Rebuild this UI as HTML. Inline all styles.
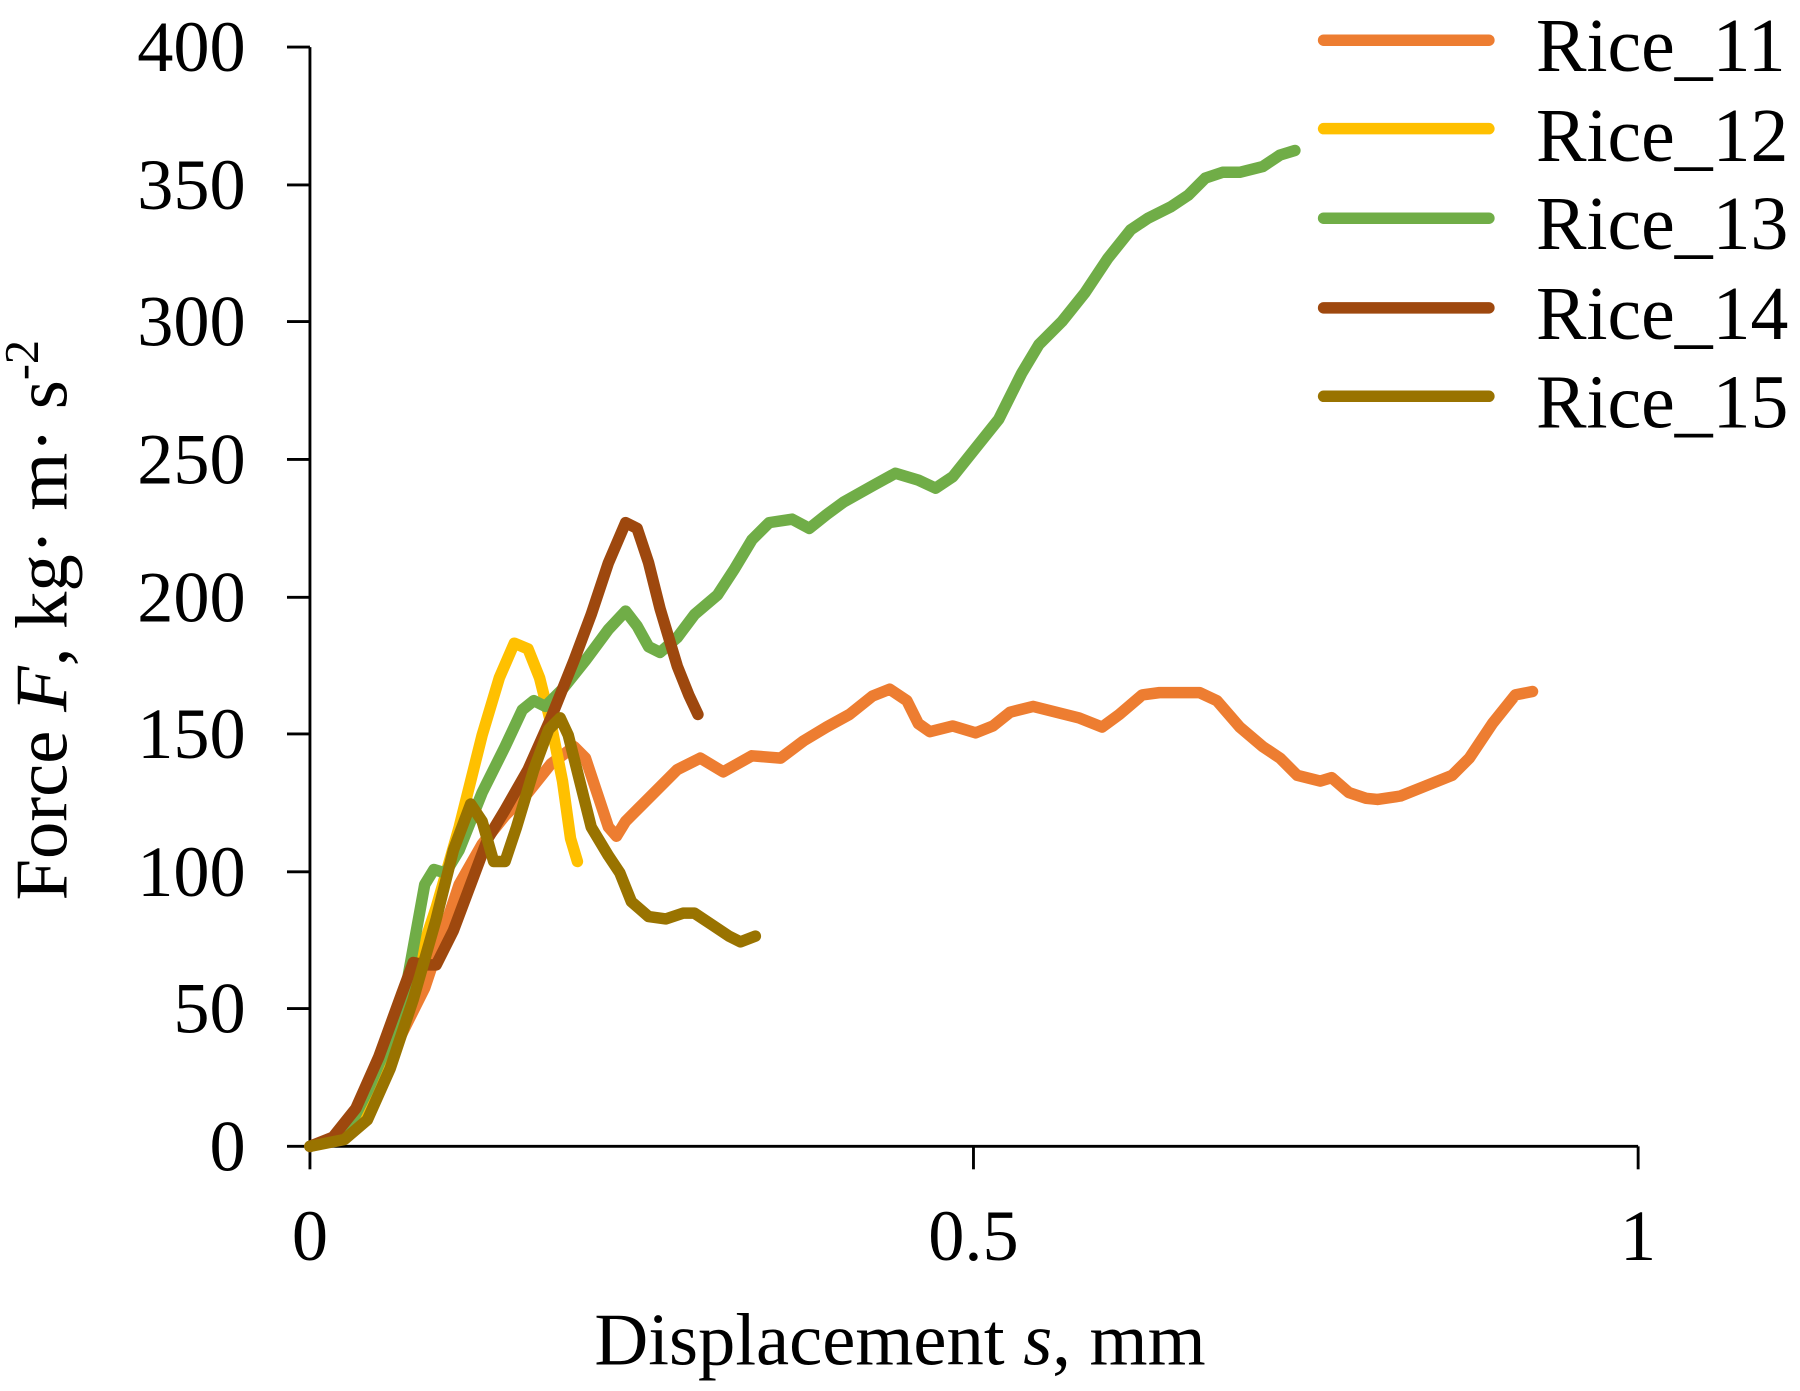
<!DOCTYPE html>
<html><head><style>html,body{margin:0;padding:0;background:#fff}svg{display:block}</style></head>
<body>
<svg width="1800" height="1391" viewBox="0 0 1568 1211" preserveAspectRatio="none" xmlns="http://www.w3.org/2000/svg" font-family="Liberation Serif, serif">
<g stroke="#000" stroke-width="2.5" fill="none">
<line x1="270" y1="41" x2="270" y2="998"/>
<line x1="270" y1="998" x2="1427" y2="998"/>
<line x1="250" y1="41" x2="270" y2="41"/><line x1="250" y1="161" x2="270" y2="161"/>
<line x1="250" y1="280" x2="270" y2="280"/><line x1="250" y1="400" x2="270" y2="400"/>
<line x1="250" y1="520" x2="270" y2="520"/><line x1="250" y1="639" x2="270" y2="639"/>
<line x1="250" y1="759" x2="270" y2="759"/><line x1="250" y1="878" x2="270" y2="878"/>
<line x1="250" y1="998" x2="270" y2="998"/>
<line x1="270" y1="998" x2="270" y2="1018"/><line x1="848" y1="998" x2="848" y2="1018"/><line x1="1427" y1="998" x2="1427" y2="1018"/>
</g>
<g font-size="63" text-anchor="end">
<text x="214" y="62">400</text><text x="214" y="182">350</text><text x="214" y="301">300</text>
<text x="214" y="421">250</text><text x="214" y="541">200</text><text x="214" y="660">150</text>
<text x="214" y="780">100</text><text x="214" y="899">50</text><text x="214" y="1019">0</text>
</g>
<g font-size="63" text-anchor="middle">
<text x="270" y="1097">0</text><text x="848" y="1097">0.5</text><text x="1427" y="1097">1</text>
</g>
<text x="784" y="1188" font-size="65" text-anchor="middle">Displacement <tspan font-style="italic">s</tspan>, mm</text>
<text transform="translate(58,540) rotate(-90)" font-size="65" text-anchor="middle">Force <tspan font-style="italic">F</tspan>, kg· m· s<tspan font-size="42" dy="-25">-2</tspan></text>
<g fill="none" stroke-width="10" stroke-linecap="round" stroke-linejoin="round">
<polyline stroke="#ED7D31" points="270,998 290,992 310,975 340,920 370,860 400,770 420,735 440,710 460,690 480,665 500,650 510,660 520,690 530,720 537,728 545,715 560,700 575,685 590,670 610,660 630,672 655,658 680,660 700,645 720,633 740,622 760,606 775,600 790,610 800,630 810,637 830,632 850,638 865,632 880,620 900,615 920,620 940,625 960,633 975,622 995,605 1010,603 1045,603 1060,610 1080,633 1100,650 1115,660 1130,675 1150,680 1160,677 1175,690 1190,695 1200,696 1220,693 1240,685 1265,675 1280,660 1300,630 1320,605 1335,602"/>
<polyline stroke="#FFC000" points="270,998 300,990 320,960 350,880 380,790 400,720 420,640 435,590 448,560 460,565 470,590 480,630 490,680 497,730 503,750"/>
<polyline stroke="#70AD47" points="270,998 300,990 320,950 350,880 370,770 378,757 388,760 400,740 420,690 440,650 455,618 465,610 475,615 490,600 510,575 530,548 545,532 555,545 565,563 575,568 590,555 605,535 625,518 640,495 655,470 670,455 690,452 705,460 720,448 735,437 760,423 780,412 800,418 815,425 830,415 850,390 870,365 890,325 905,300 925,280 945,255 965,225 985,200 1000,190 1020,180 1035,170 1050,155 1065,150 1080,150 1100,145 1115,135 1128,131"/>
<polyline stroke="#9E480E" points="270,998 290,990 310,965 330,920 350,865 360,838 370,840 380,840 395,810 410,770 425,730 440,705 460,670 480,625 500,575 515,535 530,490 545,455 555,460 565,490 575,530 590,580 600,605 608,622"/>
<polyline stroke="#997300" points="270,998 300,992 320,975 340,930 360,870 380,800 395,740 410,700 420,715 430,750 440,750 450,720 465,670 478,635 488,625 495,640 505,680 515,720 530,745 540,760 550,785 565,798 580,800 595,795 605,795 620,805 635,815 645,820 658,815"/>
<line stroke="#ED7D31" x1="1153" y1="35" x2="1297" y2="35"/>
<line stroke="#FFC000" x1="1153" y1="112" x2="1297" y2="112"/>
<line stroke="#70AD47" x1="1153" y1="190" x2="1297" y2="190"/>
<line stroke="#9E480E" x1="1153" y1="268" x2="1297" y2="268"/>
<line stroke="#997300" x1="1153" y1="345" x2="1297" y2="345"/>
</g>
<g font-size="66">
<text x="1338" y="62">Rice_11</text><text x="1338" y="140">Rice_12</text>
<text x="1338" y="217">Rice_13</text><text x="1338" y="295">Rice_14</text>
<text x="1338" y="372">Rice_15</text>
</g>
</svg>
</body></html>
